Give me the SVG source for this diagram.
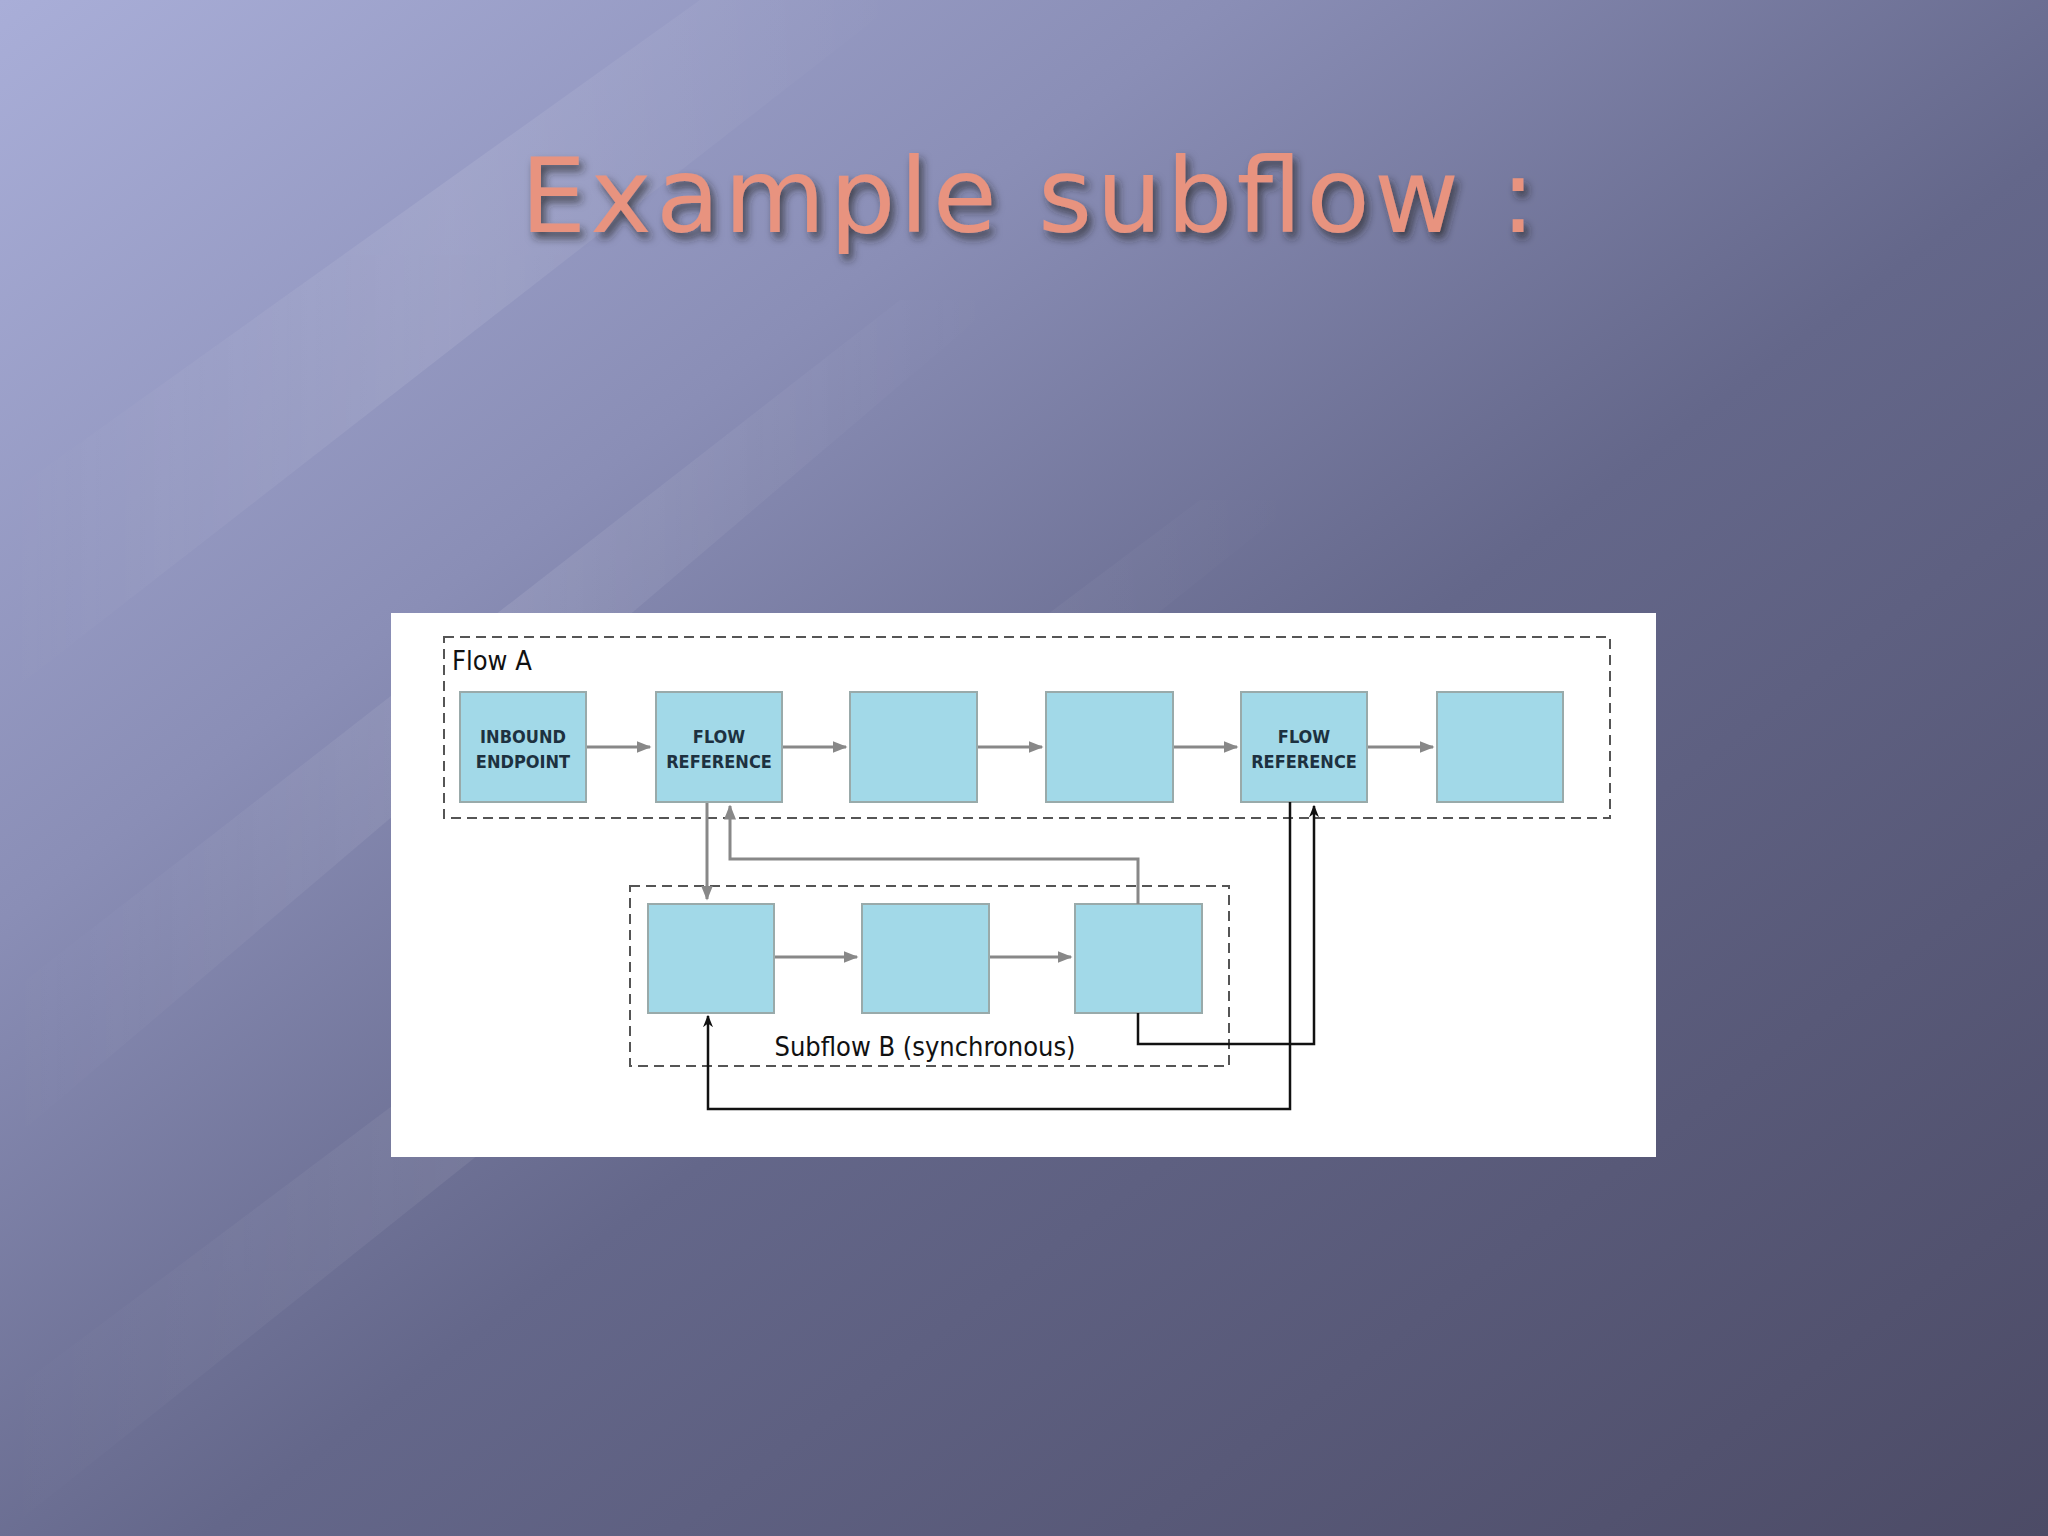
<svg xmlns="http://www.w3.org/2000/svg" width="2048" height="1536" viewBox="0 0 2048 1536">
<defs>
<linearGradient id="bg" x1="0" y1="0" x2="1" y2="1">
<stop offset="0" stop-color="#a9aed8"/>
<stop offset="0.3" stop-color="#8a8eb6"/>
<stop offset="0.55" stop-color="#64678a"/>
<stop offset="1" stop-color="#4c4b66"/>
</linearGradient>
<linearGradient id="streak" x1="0" y1="0" x2="1" y2="0">
<stop offset="0" stop-color="#ffffff" stop-opacity="0"/>
<stop offset="0.5" stop-color="#ffffff" stop-opacity="0.12"/>
<stop offset="1" stop-color="#ffffff" stop-opacity="0"/>
</linearGradient>
<filter id="sh" x="-10%" y="-30%" width="120%" height="160%"><feDropShadow dx="4" dy="6" stdDeviation="4" flood-color="#222" flood-opacity="0.7"/></filter>
<marker id="ag" viewBox="0 0 10 10" refX="9" refY="5" markerWidth="5" markerHeight="5" orient="auto-start-reverse"><path d="M0,1 L10,5 L0,9 z" fill="#888"/></marker>
<marker id="ab" viewBox="0 0 10 10" refX="9" refY="5" markerWidth="5" markerHeight="6" orient="auto"><path d="M0,1 L10,5 L0,9 L3,5 z" fill="#111"/></marker>
</defs>
<style>
.box{fill:#a2d9e8;stroke:#9aa;stroke-width:2}
.dash{fill:none;stroke:#555;stroke-width:2;stroke-dasharray:10 6}
.g{fill:none;stroke:#888;stroke-width:3;marker-end:url(#ag)}
.b{fill:none;stroke:#111;stroke-width:2.5;marker-end:url(#ab)}
.lbl{font-family:"DejaVu Sans Condensed","DejaVu Sans",sans-serif;font-size:18px;font-weight:bold;fill:#1d3140;text-anchor:middle}
.cap{font-family:"DejaVu Sans Condensed","DejaVu Sans",sans-serif;font-size:27px;fill:#111}
</style>
<rect width="2048" height="1536" fill="url(#bg)"/>
<g opacity="0.8">
<polygon points="0,500 700,0 900,0 0,700" fill="url(#streak)"/>
<polygon points="0,1000 900,300 1000,300 0,1150" fill="url(#streak)"/>
<polygon points="0,1400 1200,500 1300,500 0,1536" fill="url(#streak)"/>
</g>
<text x="1028" y="232" font-family="DejaVu Sans,sans-serif" font-size="104" fill="#e8937f" text-anchor="middle" textLength="1015" filter="url(#sh)">Example subflow :</text>
<rect x="391" y="613" width="1265" height="544" fill="#ffffff"/>
<g id="flowA"><rect class="dash" x="444" y="637" width="1166" height="181"/><text class="cap" x="452" y="670">Flow A</text></g>
<g id="subB"><rect class="dash" x="630" y="886" width="599" height="180"/><text class="cap" x="925" y="1056" text-anchor="middle">Subflow B (synchronous)</text></g>
<g id="n1"><rect class="box" x="460" y="692" width="126" height="110"/><text class="lbl" x="523" y="743">INBOUND</text><text class="lbl" x="523" y="768">ENDPOINT</text></g>
<g id="n2"><rect class="box" x="656" y="692" width="126" height="110"/><text class="lbl" x="719" y="743">FLOW</text><text class="lbl" x="719" y="768">REFERENCE</text></g>
<g id="n3"><rect class="box" x="850" y="692" width="127" height="110"/></g>
<g id="n4"><rect class="box" x="1046" y="692" width="127" height="110"/></g>
<g id="n5"><rect class="box" x="1241" y="692" width="126" height="110"/><text class="lbl" x="1304" y="743">FLOW</text><text class="lbl" x="1304" y="768">REFERENCE</text></g>
<g id="n6"><rect class="box" x="1437" y="692" width="126" height="110"/></g>
<g id="s1"><rect class="box" x="648" y="904" width="126" height="109"/></g>
<g id="s2"><rect class="box" x="862" y="904" width="127" height="109"/></g>
<g id="s3"><rect class="box" x="1075" y="904" width="127" height="109"/></g>
<g id="connectors">
<path class="g" d="M587,747 H650"/>
<path class="g" d="M783,747 H846"/>
<path class="g" d="M978,747 H1042"/>
<path class="g" d="M1174,747 H1237"/>
<path class="g" d="M1368,747 H1433"/>
<path class="g" d="M775,957 H857"/>
<path class="g" d="M990,957 H1071"/>
<path class="g" d="M707,803 V899"/>
<path class="g" d="M1138,904 V859 H730 V806"/>
<path class="b" d="M1138,1013 V1044 H1314 V806"/>
<path class="b" d="M1290,802 V1109 H708 V1016"/>
</g>
</svg>
